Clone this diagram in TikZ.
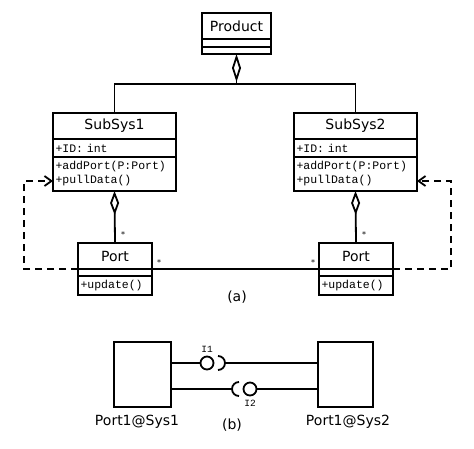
\documentclass[tikz,border=0pt]{standalone}
\usepackage{fontspec}
\setmainfont{DejaVu Sans}
\newfontfamily\umlmono{Liberation Mono}
\usetikzlibrary{arrows.meta,positioning}
\tikzset{
  cname/.style={draw,outer sep=0pt,inner sep=0pt,font=\fontsize{14}{16}\selectfont},
  cpart/.style={draw,outer sep=0pt,inner xsep=2.5pt,inner ysep=0pt,align=left,
    font=\umlmono\fontsize{11.5}{14}\selectfont},
  aggr/.style={-{Diamond[open,length=#1,width=9pt]}},
  depend/.style={dash pattern=on 7pt off 5pt,-{Straight Barb[length=7pt,width=10pt]}},
  mult/.style={font=\fontsize{8}{9}\selectfont,inner sep=0pt},
  lbl/.style={font=\fontsize{14}{16}\selectfont,inner sep=0pt},
  iface/.style={font=\umlmono\fontsize{9.5}{10}\selectfont,inner sep=0pt},
  ball/.style={draw,circle,minimum size=13pt,inner sep=0pt,outer sep=0pt}
}
\begin{document}
\begin{tikzpicture}[x=1pt,y=-1pt,line width=1.8pt]
  \useasboundingbox (0,0) rectangle (474,448);
  % (a)
  \node[cname,minimum width=69,minimum height=26,anchor=north] (prodN) at (236.5,13) {Product};
  \node[cpart,text width=64,minimum height=8,below=0pt of prodN] (prodA) {};
  \node[cpart,text width=64,minimum height=7,below=0pt of prodA] (prodO) {};

  \node[cname,minimum width=123,minimum height=26,anchor=north] (s1N) at (114.5,113) {SubSys1};
  \node[cpart,text width=118,minimum height=18,below=0pt of s1N] (s1A) {+ID: int};
  \node[cpart,text width=118,minimum height=34,below=0pt of s1A] (s1O) {+addPort(P:Port)\\+pullData()};

  \node[cname,minimum width=123,minimum height=26,anchor=north] (s2N) at (355.5,113) {SubSys2};
  \node[cpart,text width=118,minimum height=18,below=0pt of s2N] (s2A) {+ID: int};
  \node[cpart,text width=118,minimum height=34,below=0pt of s2A] (s2O) {+addPort(P:Port)\\+pullData()};

  \node[cname,minimum width=74,minimum height=26,anchor=north] (p1N) at (115,243) {Port};
  \node[cpart,text width=69,minimum height=7,below=0pt of p1N] (p1A) {};
  \node[cpart,text width=69,minimum height=19,below=0pt of p1A] (p1O) {+update()};

  \node[cname,minimum width=74,minimum height=26,anchor=north] (p2N) at (356,243) {Port};
  \node[cpart,text width=69,minimum height=7,below=0pt of p2N] (p2A) {};
  \node[cpart,text width=69,minimum height=19,below=0pt of p2A] (p2O) {+update()};

  \coordinate (pj) at (236.5,84);
  \draw (s1N.north) |- (pj) -| (s2N.north);
  \draw[aggr=28pt] (pj) -- (prodO.south);
  \draw[aggr=24pt] (p1N.north) -- (s1O.south);
  \draw[aggr=24pt] (p2N.north) -- (s2O.south);
  \draw (p1N.south east) -- (p2N.south west);

  \coordinate (dl) at (24,181);
  \coordinate (dr) at (451,181);
  \draw[depend] (p1N.south west) -| (dl) -- (dl -| s1O.west);
  \draw[depend] (p2N.south east) -| (dr) -- (dr -| s2O.east);

  \node[mult] (m1) at (123,235) {*};
  \node[mult] (m2) at (364,235) {*};
  \node[mult] (m3) at (159,263) {*};
  \node[mult] (m4) at (313,263) {*};
  \node[lbl] (alab) at (237,297) {(a)};

  % (b)
  \node[draw,minimum width=57,minimum height=65,outer sep=0pt] (b1) at (142.5,374.5) {};
  \node[draw,minimum width=55,minimum height=65,outer sep=0pt] (b2) at (345.5,374.5) {};

  \node[ball] (i1) at (207,363) {};
  \coordinate (k1) at (225,363);
  \draw (b1.east |- i1) -- (i1.west);
  \draw (218,356) arc[start angle=-90,end angle=90,radius=7];
  \draw (k1) -- (k1 -| b2.west);

  \node[ball] (i2) at (250,389) {};
  \coordinate (k2) at (232,389);
  \draw (b1.east |- k2) -- (k2);
  \draw (239,396) arc[start angle=90,end angle=270,radius=7];
  \draw (i2.east) -- (i2 -| b2.west);

  \node[iface] (i1lab) at (207,349) {I1};
  \node[iface] (i2lab) at (250,403) {I2};
  \node[lbl] (b1lab) at (137,422) {Port1@Sys1};
  \node[lbl] (b2lab) at (348,422) {Port1@Sys2};
  \node[lbl] (blab) at (232,425) {(b)};
\end{tikzpicture}
\end{document}
